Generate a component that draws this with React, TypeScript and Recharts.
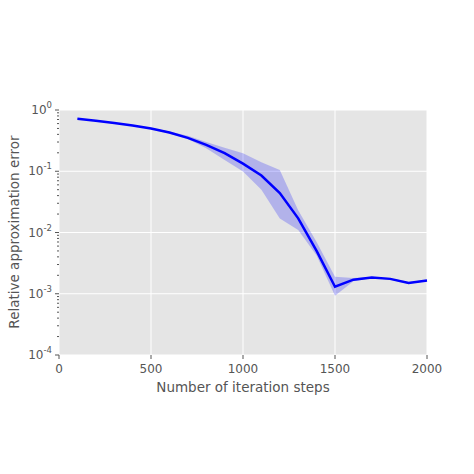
import React from 'react';
import { ComposedChart, Line, Area, XAxis, YAxis, CartesianGrid } from 'recharts';

const steps = [100, 200, 300, 400, 500, 600, 700, 800, 900, 1000, 1100, 1200, 1300, 1400, 1500, 1600, 1700, 1800, 1900, 2000];
const meanErr = [0.72, 0.665, 0.615, 0.56, 0.5, 0.43, 0.35, 0.27, 0.197, 0.133, 0.085, 0.044, 0.017, 0.005, 0.0013, 0.0017, 0.00185, 0.00175, 0.0015, 0.00165];
const lowErr = [0.71, 0.655, 0.605, 0.55, 0.49, 0.415, 0.335, 0.237, 0.153, 0.099, 0.05, 0.017, 0.011, 0.0042, 0.00093, 0.0016, 0.0018, 0.0017, 0.00145, 0.0016];
const highErr = [0.73, 0.675, 0.625, 0.57, 0.51, 0.445, 0.38, 0.3, 0.243, 0.196, 0.14, 0.105, 0.023, 0.007, 0.0019, 0.0018, 0.0019, 0.0018, 0.00155, 0.0017];

const xTicks = [0, 500, 1000, 1500, 2000];
const yMajor = [1e-4, 1e-3, 1e-2, 1e-1, 1];
const yTicks = [
  1e-4, 2e-4, 3e-4, 4e-4, 5e-4, 6e-4, 7e-4, 8e-4, 9e-4,
  1e-3, 2e-3, 3e-3, 4e-3, 5e-3, 6e-3, 7e-3, 8e-3, 9e-3,
  1e-2, 2e-2, 3e-2, 4e-2, 5e-2, 6e-2, 7e-2, 8e-2, 9e-2,
  1e-1, 0.2, 0.3, 0.4, 0.5, 0.6, 0.7, 0.8, 0.9, 1,
];

const TEXT = '#555555';
const FONT = '"DejaVu Sans", sans-serif';

const data = steps.map((s, i) => ({ step: s, mean: meanErr[i], band: [lowErr[i], highErr[i]] }));

const isMajor = (v: number) => {
  const l = Math.log10(v);
  return Math.abs(l - Math.round(l)) < 1e-6;
};

const LeftTick = ({ x, y, payload }: any) => {
  const v = payload.value;
  const major = isMajor(v);
  const exp = Math.round(Math.log10(v));
  return (
    <g>
      <line x1={x} x2={x - (major ? 4 : 2)} y1={y} y2={y} stroke={TEXT} strokeWidth={1} />
      {major && (
        <text x={x - 7} y={y + 4} textAnchor="end" fill={TEXT} fontFamily={FONT} fontSize={12}>
          10<tspan dy={-6} fontSize={8.5}>{exp === 0 ? '0' : `-${Math.abs(exp)}`}</tspan>
        </text>
      )}
    </g>
  );
};

const RightTick = ({ x, y, payload }: any) => {
  const major = isMajor(payload.value);
  return <line x1={x} x2={x + (major ? 4 : 2)} y1={y} y2={y} stroke={TEXT} strokeWidth={1} />;
};

const BottomTick = ({ x, y, payload }: any) => (
  <g>
    <line x1={x} x2={x} y1={y} y2={y + 4} stroke={TEXT} strokeWidth={1} />
    <text x={x} y={y + 18} textAnchor="middle" fill={TEXT} fontFamily={FONT} fontSize={12}>
      {payload.value}
    </text>
  </g>
);

const TopTick = ({ x, y }: any) => (
  <line x1={x} x2={x} y1={y} y2={y - 4} stroke={TEXT} strokeWidth={1} />
);

export default function App() {
  return (
    <div style={{ position: 'absolute', left: 0, top: 0, width: 474, height: 474, background: '#fff' }}>
      <ComposedChart
        width={474}
        height={474}
        data={data}
        margin={{ top: 110, right: 47, bottom: 89, left: 0 }}
      >
        <CartesianGrid
          xAxisId="bottom"
          yAxisId="left"
          fill="#e5e5e5"
          stroke="#ffffff"
          strokeWidth={1}
          horizontalValues={yMajor}
          verticalValues={xTicks}
        />
        <XAxis
          xAxisId="bottom"
          dataKey="step"
          type="number"
          domain={[0, 2000]}
          ticks={xTicks}
          height={30}
          axisLine={false}
          tickLine={false}
          tickSize={0}
          tickMargin={0}
          tick={<BottomTick />}
          interval={0}
        />
        <XAxis
          xAxisId="top"
          orientation="top"
          dataKey="step"
          type="number"
          domain={[0, 2000]}
          ticks={xTicks}
          height={0}
          axisLine={false}
          tickLine={false}
          tickSize={0}
          tickMargin={0}
          tick={<TopTick />}
          interval={0}
        />
        <YAxis
          yAxisId="left"
          scale="log"
          domain={[1e-4, 1]}
          ticks={yTicks}
          width={59}
          axisLine={false}
          tickLine={false}
          tickSize={0}
          tickMargin={0}
          tick={<LeftTick />}
          interval={0}
          allowDataOverflow
        />
        <YAxis
          yAxisId="right"
          orientation="right"
          scale="log"
          domain={[1e-4, 1]}
          ticks={yTicks}
          width={0}
          axisLine={false}
          tickLine={false}
          tickSize={0}
          tickMargin={0}
          tick={<RightTick />}
          interval={0}
          allowDataOverflow
        />
        <Area
          xAxisId="bottom"
          yAxisId="left"
          dataKey="band"
          type="linear"
          stroke="none"
          fill="#0000ff"
          fillOpacity={0.22}
          isAnimationActive={false}
        />
        <Line
          xAxisId="bottom"
          yAxisId="left"
          dataKey="mean"
          type="linear"
          stroke="#0000ff"
          strokeWidth={2.5}
          dot={false}
          isAnimationActive={false}
        />
        <text x={243} y={392} textAnchor="middle" fill={TEXT} fontFamily={FONT} fontSize={13.5}>
          Number of iteration steps
        </text>
        <text
          x={19}
          y={232}
          textAnchor="middle"
          fill={TEXT}
          fontFamily={FONT}
          fontSize={13.5}
          transform="rotate(-90 19 232)"
        >
          Relative approximation error
        </text>
      </ComposedChart>
    </div>
  );
}
